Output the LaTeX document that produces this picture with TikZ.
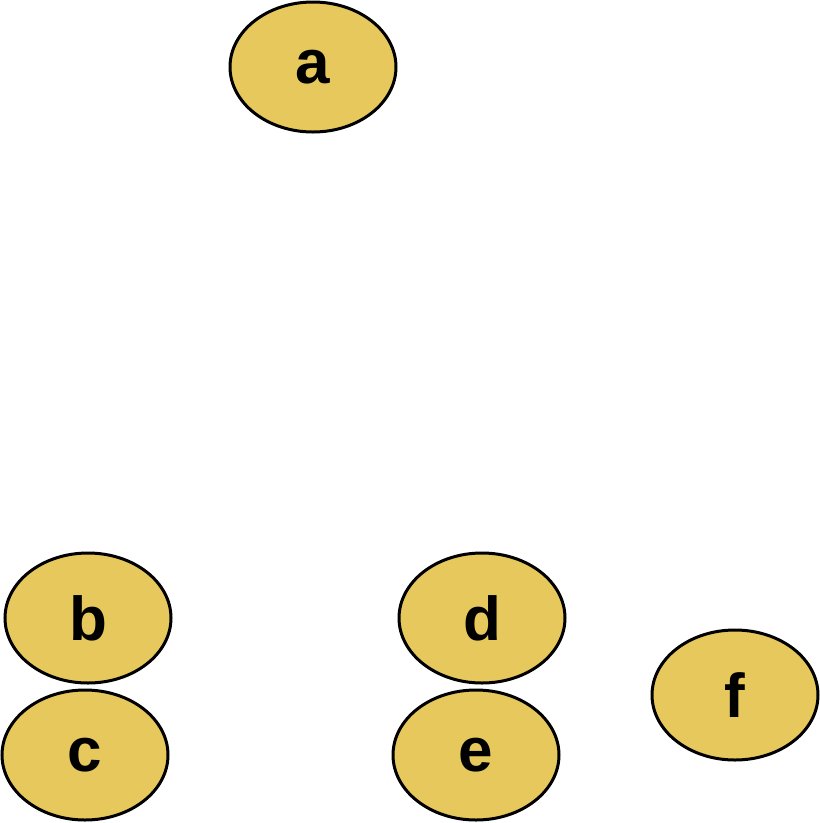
\documentclass[tikz,border=0pt]{standalone}
\usepackage{fontspec}
\setmainfont{Liberation Sans}
\usetikzlibrary{shapes.geometric}
\definecolor{nodefill}{RGB}{231,200,92}
\tikzset{
  vertex/.style={ellipse, draw=black, line width=3pt, fill=nodefill,
    minimum width=166pt, minimum height=130pt, inner sep=0pt,
    font=\fontsize{62}{62}\selectfont\bfseries}
}
\begin{document}
\begin{tikzpicture}[x=1pt,y=-1pt]
  \useasboundingbox (0,0) rectangle (820,823);
  \node[vertex] (a) at (313, 67) {a};
  \node[vertex] (b) at (88, 618) {b};
  \node[vertex] (c) at (85, 755) {c};
  \node[vertex] (d) at (482, 618) {d};
  \node[vertex] (e) at (476, 755) {e};
  \node[vertex] (f) at (735, 695) {f};
\end{tikzpicture}
\end{document}
